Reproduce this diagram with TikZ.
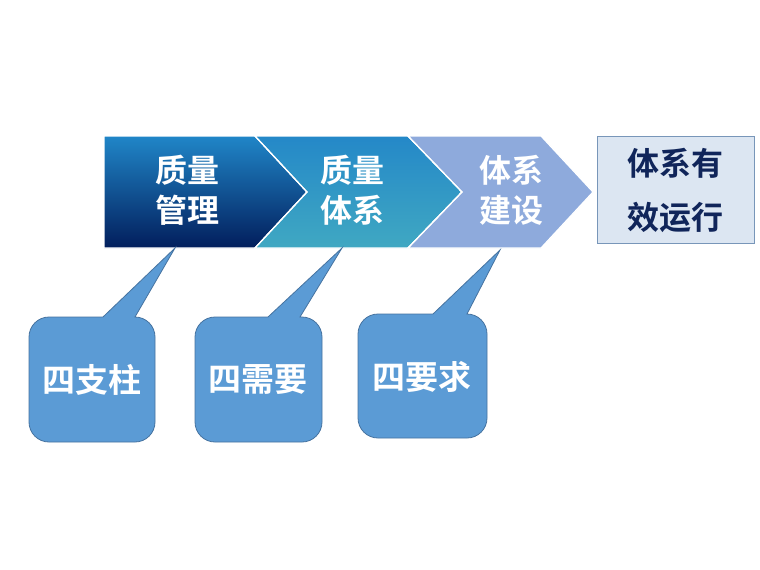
\documentclass[tikz,border=0pt]{standalone}
\usepackage{fontspec}
\newfontfamily\cjk{Noto Sans CJK SC}[BoldFont={Noto Sans CJK SC Bold}]
\usetikzlibrary{positioning,calc}
\definecolor{navytop}{RGB}{32,134,200}
\definecolor{navybot}{RGB}{2,30,92}
\definecolor{tealtop}{RGB}{36,136,200}
\definecolor{tealbot}{RGB}{64,168,194}
\definecolor{lavender}{RGB}{142,170,220}
\definecolor{paleblue}{RGB}{220,230,242}
\definecolor{paleedge}{RGB}{120,150,185}
\definecolor{inkblue}{RGB}{16,37,90}
\definecolor{bubblefill}{RGB}{91,155,213}
\definecolor{bubbleedge}{RGB}{70,115,160}
\tikzset{
  chev/.style={draw=white, line width=1.2pt, line join=miter},
  chevtext/.style={text=white, align=center, font=\cjk\bfseries\fontsize{32}{40}\selectfont},
  goalbox/.style={draw=paleedge, fill=paleblue, line width=1pt},
  goaltext/.style={text=inkblue, align=center, font=\cjk\bfseries\fontsize{32}{54}\selectfont},
  bubble/.style={draw=bubbleedge, fill=bubblefill, line width=0.8pt},
  bubbletext/.style={text=white, font=\cjk\bfseries\fontsize{33}{36}\selectfont}
}
% rounded box with a pointer on its top side: L T R B base1 base2 tip
\newcommand{\bubblepath}[7]{%
  (#6,#2) -- ({#3-20},#2) arc[start angle=-90,end angle=0,radius=20]
  -- (#3,{#4-20}) arc[start angle=0,end angle=90,radius=20]
  -- ({#1+20},#4) arc[start angle=90,end angle=180,radius=20]
  -- (#1,{#2+20}) arc[start angle=180,end angle=270,radius=20]
  -- (#5,#2) -- (#7) -- cycle}
\begin{document}
\begin{tikzpicture}[x=1pt,y=-1pt]
  \useasboundingbox[fill=white] (0,0) rectangle (760,570);

  % chevrons
  \path[chev, top color=navytop, bottom color=navybot]
    (104,136) -- (255,136) -- (307,192) -- (255,248) -- (104,248) -- cycle;
  \path[chev, top color=tealtop, bottom color=tealbot]
    (255,136) -- (408,136) -- (462,192) -- (408,248) -- (255,248) -- (307,192) -- cycle;
  \path[chev, fill=lavender]
    (408,136) -- (541,136) -- (593,192) -- (541,248) -- (408,248) -- (462,192) -- cycle;
  \draw[chev] (255,136) -- (307,192) -- (255,248);
  \draw[chev] (408,136) -- (462,192) -- (408,248);

  \node[chevtext] (mgmt) at (187,190) {质量\\管理};
  \node[chevtext] (sys)  at (352,190) {质量\\体系};
  \node[chevtext] (build) at (511,190) {体系\\建设};

  \draw[goalbox] (597,136) rectangle (754,243);
  \node[goaltext] (run) at (675,190) {体系有\\效运行};

  % callouts
  \coordinate (t1) at (175,248);
  \coordinate (t2) at (342,248);
  \coordinate (t3) at (500,250);
  \draw[bubble] \bubblepath{29}{317}{155}{442}{103}{135}{t1};
  \draw[bubble] \bubblepath{195}{317}{322}{442}{268}{300}{t2};
  \draw[bubble] \bubblepath{358}{314}{487}{438}{433}{467}{t3};

  \node[bubbletext] (pillar) at (92,380) {四支柱};
  \node[bubbletext] (need)   at (258,380) {四需要};
  \node[bubbletext] (req)    at (422,377) {四要求};
\end{tikzpicture}
\end{document}
